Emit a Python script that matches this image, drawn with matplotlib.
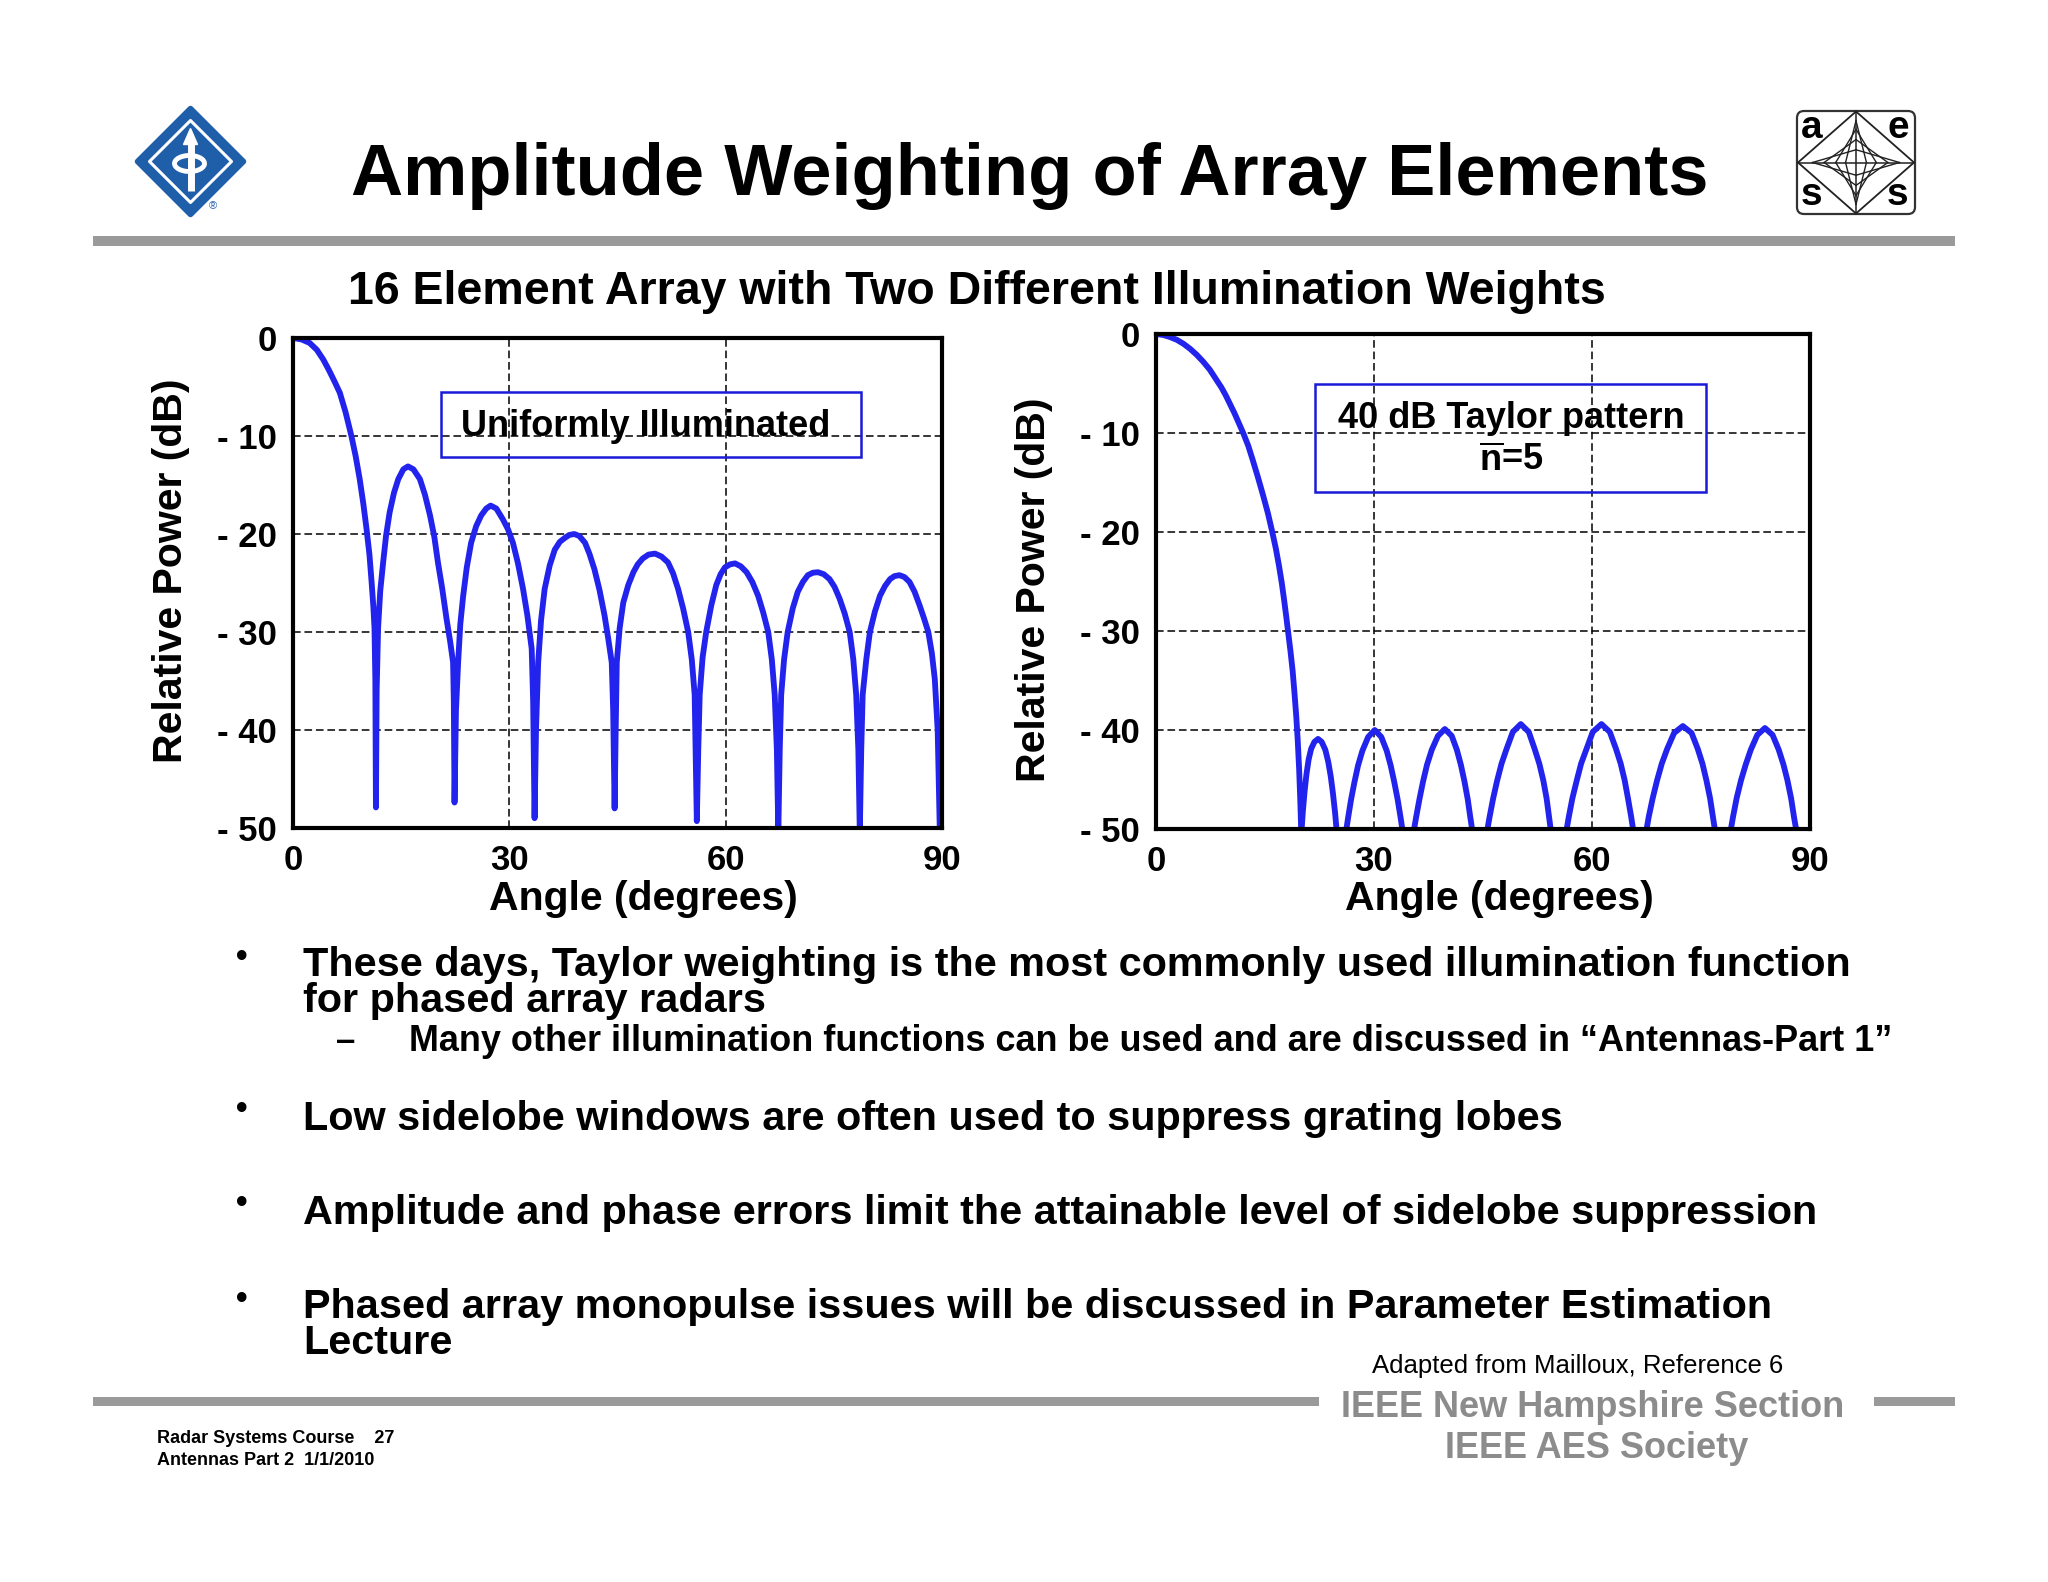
import matplotlib
matplotlib.use('Agg')
import matplotlib.pyplot as plt
from matplotlib.patches import Polygon, FancyBboxPatch, Rectangle, Arc

plt.rcParams['font.family'] = ['Liberation Sans', 'DejaVu Sans']
plt.rcParams['mathtext.fontset'] = 'custom'
plt.rcParams['mathtext.rm'] = 'Liberation Sans:bold'
plt.rcParams['mathtext.bf'] = 'Liberation Sans:bold'
plt.rcParams['mathtext.it'] = 'Liberation Sans:bold'

nan = float('nan')

# ---------------- data ----------------
# Uniformly illuminated 16 element array (angle in degrees, relative power in dB)
uniform_angle = [
    0, 1.2, 2.3, 3.3, 4.2, 5.0, 5.8, 6.5, 7.3, 8.1, 8.7, 9.25, 9.75, 10.2, 10.6, 10.9, 11.15, 11.3, 11.42, 11.5,
    11.6, 11.8, 12.1, 12.5, 12.9, 13.4, 14.0, 14.6, 15.3, 15.95, 16.7, 17.6, 18.3, 19.0, 19.6, 20.1, 20.7, 21.3, 21.8, 22.2, 22.3, 22.4,
    22.6, 22.9, 23.2, 23.6, 24.1, 24.7, 25.4, 26.1, 26.8, 27.4, 28.2, 29.1, 29.8, 30.5, 31.2, 31.9, 32.5, 33.1, 33.3, 33.5,
    33.7, 34.0, 34.4, 34.9, 35.6, 36.3, 37.0, 37.7, 38.3, 39.0, 39.7, 40.5, 41.1, 41.8, 42.5, 43.2, 43.7, 44.2, 44.4, 44.6,
    44.75, 44.9, 45.3, 45.8, 46.5, 47.2, 47.8, 48.5, 49.3, 50.2, 51.1, 52.0, 52.7, 53.4, 54.1, 54.8, 55.3, 55.7, 56.0,
    56.2, 56.4, 56.8, 57.3, 58.0, 58.7, 59.3, 59.9, 60.6, 61.3, 62.1, 62.9, 63.7, 64.5, 65.2, 65.9, 66.4, 66.8, 67.1, 67.3,
    67.5, 67.7, 68.1, 68.6, 69.3, 70.0, 70.7, 71.4, 72.1, 72.8, 73.6, 74.4, 75.1, 75.8, 76.5, 77.2, 77.7, 78.1, 78.4, 78.6,
    78.8, 79.0, 79.5, 80.0, 80.7, 81.4, 82.1, 82.8, 83.4, 84.1, 84.8, 85.5, 86.2, 86.9, 87.5, 88.1, 88.6, 89.0, 89.4, 89.7]
uniform_db = [
    0, -0.15, -0.5, -1.2, -2.2, -3.3, -4.5, -5.6, -7.6, -10.0, -12.1, -14.4, -16.9, -19.5, -22.1, -24.9, -27.5, -29.6, -35.0, -47.9,
    -36.0, -29.6, -25.8, -22.9, -20.2, -17.8, -15.8, -14.4, -13.4, -13.1, -13.4, -14.4, -16.0, -18.1, -20.3, -22.9, -25.6, -28.7, -31.0, -33.1, -37.0, -47.4,
    -38.0, -33.1, -29.2, -26.3, -23.4, -20.9, -19.2, -18.1, -17.4, -17.1, -17.4, -18.5, -19.5, -20.9, -23.0, -25.6, -28.3, -31.7, -37.0, -49.0,
    -40.0, -33.1, -28.8, -25.6, -23.2, -21.6, -20.8, -20.4, -20.1, -20.0, -20.2, -20.9, -22.0, -23.6, -25.7, -28.3, -30.6, -33.1, -38.0, -48.0,
    -40.0, -33.1, -29.6, -27.0, -25.2, -23.9, -23.1, -22.5, -22.1, -22.0, -22.3, -22.9, -24.0, -25.6, -27.6, -30.0, -32.8, -36.4, -49.3,
    -42.0, -36.4, -32.6, -30.0, -27.3, -25.2, -24.1, -23.4, -23.1, -23.0, -23.3, -23.9, -24.9, -26.3, -28.0, -30.0, -32.8, -36.4, -42.0, -50.5,
    -42.0, -36.4, -32.8, -30.0, -27.6, -25.9, -24.9, -24.2, -23.95, -23.9, -24.1, -24.6, -25.4, -26.6, -28.1, -30.0, -32.8, -36.4, -42.0, -50.5,
    -42.0, -36.4, -32.8, -30.0, -27.9, -26.3, -25.3, -24.6, -24.3, -24.2, -24.4, -24.9, -25.9, -27.3, -28.6, -30.0, -32.2, -34.8, -40.0, -50.5]

# 40 dB Taylor pattern, n-bar = 5 (NaN = curve below the -50 dB floor)
taylor_angle = [
    0, 1.0, 1.9, 2.9, 3.8, 4.7, 5.6, 6.5, 7.4, 8.2, 9.0, 9.6, 10.2, 10.8, 11.4, 12.0, 12.7, 13.3, 14.0, 14.7, 15.4, 16.0,
    16.5, 16.9, 17.3, 17.6, 17.9, 18.2, 18.5, 18.8, 19.05, 19.3, 19.5, 19.7, 19.85, 20.0,
    20.2, 20.45, 20.7, 21.0, 21.35, 21.8, 22.3, 22.8, 23.3, 23.7, 24.05, 24.35, 24.65, 24.9, nan,
    26.1, 26.45, 26.85, 27.3, 27.8, 28.4, 29.2, 30.1, 31.0, 31.75, 32.3, 32.8, 33.25, 33.65, 34.0, nan,
    35.4, 35.8, 36.25, 36.75, 37.3, 37.95, 38.8, 39.75, 40.7, 41.4, 41.95, 42.45, 42.9, 43.25, 43.6, nan,
    45.5, 45.9, 46.4, 46.95, 47.55, 48.25, 49.1, 50.2, 51.3, 52.1, 52.75, 53.3, 53.75, 54.1, 54.4, nan,
    56.4, 56.8, 57.3, 57.9, 58.5, 59.25, 60.1, 61.3, 62.45, 63.3, 63.95, 64.5, 64.95, 65.4, 65.75, nan,
    67.4, 67.8, 68.35, 68.95, 69.6, 70.35, 71.3, 72.5, 73.7, 74.55, 75.2, 75.75, 76.25, 76.65, 77.0, nan,
    79.0, 79.4, 79.9, 80.5, 81.15, 81.85, 82.75, 83.8, 84.85, 85.7, 86.35, 86.9, 87.4, 87.8, 88.2]
taylor_db = [
    0, -0.1, -0.3, -0.6, -1.0, -1.5, -2.1, -2.8, -3.6, -4.5, -5.4, -6.2, -7.1, -8.0, -9.0, -10.0, -11.3, -12.7, -14.4, -16.2, -18.1, -20.0,
    -21.7, -23.3, -25.1, -26.7, -28.4, -30.2, -32.0, -34.0, -36.2, -38.6, -41.0, -44.0, -47.0, -50.5,
    -48.3, -46.2, -44.5, -43.0, -41.9, -41.2, -40.9, -41.2, -42.0, -43.2, -44.7, -46.4, -48.4, -50.5, nan,
    -50.5, -48.8, -47.0, -45.3, -43.6, -42.1, -40.7, -40.0, -40.7, -42.1, -43.6, -45.3, -47.0, -48.8, -50.5, nan,
    -50.5, -48.8, -47.0, -45.2, -43.5, -42.0, -40.6, -39.9, -40.6, -42.0, -43.5, -45.2, -47.0, -48.8, -50.5, nan,
    -50.5, -48.8, -46.9, -45.1, -43.4, -41.9, -40.2, -39.4, -40.2, -41.9, -43.4, -45.1, -46.9, -48.8, -50.5, nan,
    -50.5, -48.8, -46.9, -45.1, -43.4, -41.9, -40.2, -39.4, -40.2, -41.9, -43.4, -45.1, -46.9, -48.8, -50.5, nan,
    -50.5, -48.8, -46.9, -45.1, -43.4, -41.9, -40.3, -39.6, -40.3, -41.9, -43.4, -45.1, -46.9, -48.8, -50.5, nan,
    -50.5, -48.8, -46.9, -45.1, -43.5, -42.0, -40.5, -39.8, -40.5, -42.0, -43.5, -45.1, -46.9, -48.8, -50.5]

x_ticks = [0, 30, 60, 90]
x_tick_labels = ['0', '30', '60', '90']
y_ticks = [0, -10, -20, -30, -40, -50]
y_tick_labels = ['0', '- 10', '- 20', '- 30', '- 40', '- 50']
x_grid = [30, 60]
y_grid = [-10, -20, -30, -40]

title = 'Amplitude Weighting of Array Elements'
subtitle = '16 Element Array with Two Different Illumination Weights'
bullets = [
    'These days, Taylor weighting is the most commonly used illumination function\nfor phased array radars',
    'Low sidelobe windows are often used to suppress grating lobes',
    'Amplitude and phase errors limit the attainable level of sidelobe suppression',
    'Phased array monopulse issues will be discussed in Parameter Estimation\nLecture',
]
bullet_baselines = [977, 1130, 1224, 1319]   # baseline of each bullet's first line (pixels)
sub_bullet = 'Many other illumination functions can be used and are discussed in \u201cAntennas-Part 1\u201d'

# ---------------- figure ----------------
W, H = 2048, 1582
fig = plt.figure(figsize=(20.48, 15.82), dpi=100)
fig.patch.set_facecolor('white')
deco = fig.add_axes([0, 0, 1, 1])
deco.set_xlim(0, W)
deco.set_ylim(H, 0)
deco.axis('off')

BAR = '#9a9a9a'
GRAY_TXT = '#8c8c8c'
BLUE = '#2323ee'

# header / footer bars
deco.add_patch(Rectangle((93, 236), 1862, 10, fc=BAR, ec='none'))
deco.add_patch(Rectangle((93, 1397), 1226, 9, fc=BAR, ec='none'))
deco.add_patch(Rectangle((1874, 1397), 81, 9, fc=BAR, ec='none'))

# IEEE logo
cx, cy, R = 190.5, 161.5, 53
IEEE_BLUE = '#1f5ea8'
deco.add_patch(Polygon([(cx, cy - R), (cx + R, cy), (cx, cy + R), (cx - R, cy)], closed=True,
                       fc=IEEE_BLUE, ec=IEEE_BLUE, lw=4, joinstyle='round'))
r2 = 41
deco.add_patch(Polygon([(cx, cy - r2), (cx + r2, cy), (cx, cy + r2), (cx - r2, cy)], closed=True,
                       fill=False, ec='white', lw=2.2, joinstyle='round'))
deco.plot([cx, cx], [cy + 29, cy - 18], color='white', lw=5, solid_capstyle='butt')
deco.add_patch(Polygon([(cx, cy - 33), (cx - 7, cy - 17), (cx + 7, cy - 17)], closed=True, fc='white', ec='white'))
deco.add_patch(Arc((cx - 1, cy + 2), 30, 16, theta1=100, theta2=420, color='white', lw=3.5))
deco.text(213, 206, '\u00ae', fontsize=8, color=IEEE_BLUE, ha='center', va='center')

# AES logo
deco.add_patch(FancyBboxPatch((1797, 111), 118, 103, boxstyle='round,pad=0,rounding_size=7',
                              fc='white', ec='#333333', lw=1.6))
ax_c, ay_c = 1856, 162.5
hx, hy = 58, 51
deco.plot([ax_c, ax_c + hx, ax_c, ax_c - hx, ax_c], [ay_c - hy, ay_c, ay_c + hy, ay_c, ay_c - hy],
          color='#222222', lw=1.3)
deco.plot([ax_c - hx, ax_c + hx], [ay_c, ay_c], color='#222222', lw=1.1)
deco.plot([ax_c, ax_c], [ay_c - hy, ay_c + hy], color='#222222', lw=1.1)
for t in [0.25, 0.45, 0.65, 0.82]:
    for sx in (-1, 1):
        for sy in (-1, 1):
            deco.plot([ax_c, ax_c + sx * hx * (1 - t)], [ay_c + sy * hy * t, ay_c], color='#222222', lw=1.0)
for (lx, ly, ch) in [(1812, 128, 'a'), (1898, 128, 'e'), (1812, 195, 's'), (1898, 195, 's')]:
    deco.text(lx, ly, ch, fontsize=28, fontweight='bold', ha='center', va='center', color='black')

# titles
deco.text(1030, 195, title, fontsize=52, fontweight='bold', ha='center', va='baseline')
deco.text(977, 304, subtitle, fontsize=33.5, fontweight='bold', ha='center', va='baseline')

# axis labels
deco.text(171, 571, 'Relative Power (dB)', fontsize=29.5, fontweight='bold', rotation=90, ha='center', va='center')
deco.text(1034, 590, 'Relative Power (dB)', fontsize=29.5, fontweight='bold', rotation=90, ha='center', va='center')
deco.text(643, 899, 'Angle (degrees)', fontsize=29.5, fontweight='bold', ha='center', va='center')
deco.text(1499, 899, 'Angle (degrees)', fontsize=29.5, fontweight='bold', ha='center', va='center')

# bullets (multi-line texts are anchored on their last baseline)
LINE_STEP = 35
for txt, yb in zip(bullets, bullet_baselines):
    n_lines = txt.count('\n') + 1
    deco.text(242, yb - 20, '\u2022', fontsize=24, fontweight='bold', ha='center', va='center')
    deco.text(303, yb + (n_lines - 1) * LINE_STEP, txt, fontsize=29.8, fontweight='bold', ha='left',
              va='baseline', linespacing=0.93, multialignment='left')
deco.text(346, 1051, '\u2013', fontsize=25, fontweight='bold', ha='center', va='baseline')
deco.text(409, 1051, sub_bullet, fontsize=25.9, fontweight='bold', ha='left', va='baseline')

deco.text(1578, 1373, 'Adapted from Mailloux, Reference 6', fontsize=18.5, ha='center', va='baseline')
deco.text(1593, 1417, 'IEEE New Hampshire Section', fontsize=26, fontweight='bold', color=GRAY_TXT,
          ha='center', va='baseline')
deco.text(1597, 1458, 'IEEE AES Society', fontsize=26, fontweight='bold', color=GRAY_TXT,
          ha='center', va='baseline')
deco.text(157, 1443, 'Radar Systems Course    27', fontsize=13, fontweight='bold', ha='left', va='baseline')
deco.text(157, 1465, 'Antennas Part 2  1/1/2010', fontsize=13, fontweight='bold', ha='left', va='baseline')


def make_plot(rect, ang, db):
    ax = fig.add_axes(rect)
    ax.set_xlim(0, 90)
    ax.set_ylim(-50, 0)
    ax.set_xticks(x_ticks)
    ax.set_xticklabels(x_tick_labels)
    ax.set_yticks(y_ticks)
    ax.set_yticklabels(y_tick_labels)
    ax.tick_params(length=0, labelsize=25, pad=11.5)
    for lab in ax.get_xticklabels() + ax.get_yticklabels():
        lab.set_fontweight('bold')
    for sp in ax.spines.values():
        sp.set_linewidth(3.0)
        sp.set_zorder(6)
    for g in x_grid:
        ax.axvline(g, color='black', lw=1.1, ls=(0, (5, 2.5)), zorder=1)
    for g in y_grid:
        ax.axhline(g, color='black', lw=1.1, ls=(0, (5, 2.5)), zorder=1)
    ax.plot(ang, db, color=BLUE, lw=4.2, zorder=3, solid_joinstyle='round')
    return ax


ax1 = make_plot([293 / W, 1 - 828 / H, (942 - 293) / W, (828 - 338) / H], uniform_angle, uniform_db)
ax2 = make_plot([1156 / W, 1 - 829 / H, (1810 - 1156) / W, (829 - 334) / H], taylor_angle, taylor_db)

# annotation boxes
ax1.add_patch(Rectangle((20.5, -12.1), 78.7 - 20.5, 12.1 - 5.5, fill=False, ec='#1a1ad8', lw=1.8, zorder=4))
ax1.text(48.9, -9.05, 'Uniformly Illuminated', fontsize=26, fontweight='bold', ha='center', va='center', zorder=5)

ax2.add_patch(Rectangle((21.9, -16.0), 75.7 - 21.9, 16.0 - 5.05, fill=False, ec='#1a1ad8', lw=1.8, zorder=4))
ax2.text(48.85, -8.5, '40 dB Taylor pattern', fontsize=26, fontweight='bold', ha='center', va='center', zorder=5)
ax2.text(48.85, -12.8, r'$\overline{\mathbf{n}}$=5', fontsize=26, fontweight='bold', ha='center', va='center',
         zorder=5)

fig.savefig('out.png', dpi=100, facecolor='white')
